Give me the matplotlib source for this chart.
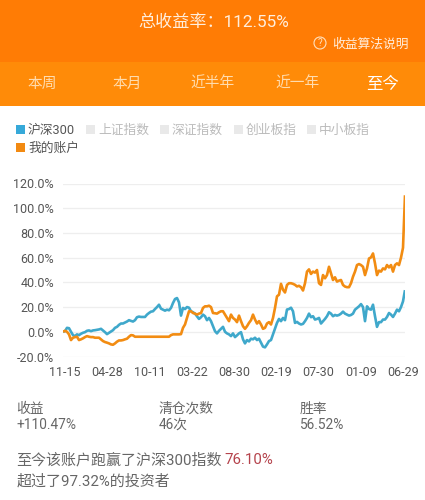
import numpy as np
import matplotlib
matplotlib.use("Agg")
import matplotlib.pyplot as plt
from matplotlib.patches import Rectangle, Circle

plt.rcParams['font.family'] = ['Roboto', 'Noto Sans CJK SC', 'DejaVu Sans']

W, H = 425, 500

tabs = ["本周", "本月", "近半年", "近一年", "至今"]
legend_names = ["沪深300", "上证指数", "深证指数", "创业板指", "中小板指", "我的账户"]
date_labels = ["11-15", "04-28", "10-11", "03-22", "08-30", "02-19", "07-30", "01-09", "06-29"]
y_ticks = [-20, 0, 20, 40, 60, 80, 100, 120]

# return in percent, one sample every couple of trading days
hs300 = [
    0, .5, 3.2, 2.9, 0, -2.7, -3.5, -2.1, -2.7, -1.6, -.8, -.3, .8, 1.1, .5, 1.1, 1.3, 1.6, 1.9, 2.4,
    1.1, -.3, -1.9, -.8, .3, 1.3, 3.2, 4, 5.6, 6.7, 6.7, 7.5, 8.3, 9.4, 8.8, 8.3, 9.4, 11.8, 12.3, 12,
    12, 12, 13.9, 15.2, 16.3, 16.6, 18.4, 20, 21.9, 18.7, 17.9, 17.1, 17.9, 17.4, 19.3, 23.3, 26.5, 27.3, 23.8, 13.1,
    19.3, 18.4, 20, 19.5, 16.6, 15.8, 14.7, 12.6, 10.4, 11.8, 13.9, 12.6, 9.4, 11.2, 8.6, 4.5, .5,
    -1.3, .8, 2.4, 4, 0, -1.3, -2.1, -3.5, -1.3, -4.3, -2.9, -1.3, -.3, -6.1, -9.4, -6.7, -7.8, -5.6, -6.1, -4.8,
    -6.7, -5.6, -8.8, -12, -12.6, -10.2, -7.5, -6.7, -2.1, 2.4, 7.2, 10.4, 8.6, 11.2, 9.4, 18, 18.4, 19.5, 16.6, 7.2,
    8, 6.7, 5.9, 6.4, 8.6, 11.2, 14.7, 11.8, 12.6, 9.9, 10.4, 11.2, 6.7, 8.6, 10.4, 12.6, 15.8, 14.7, 12.6, 13.6,
    13.1, 13.6, 14.7, 16.3, 14.7, 13.9, 13.1, 13.6, 14.7, 17.9, 19.3, 20.6, 22.4, 20, 8.6, 20.6, 18.4, 17.9, 21.9, 12.6,
    4, 7.8, 7.8, 9.9, 9.9, 12, 15.2, 13.9, 12, 14.7, 17.9, 16.6, 20, 24.6, 33.7,
]

my_account = [
    0, .8, 0, -2.1, -6.7, -4.8, -4.3, -4, -6.7, -6.1, -5.3, -4.3, -3.5, -4, -4.3, -4.3, -4.8, -4.8, -4.8, -6.1,
    -7.5, -8.3, -8.8, -9.4, -10.2, -10.5, -9.4, -8, -7, -7, -6.7, -6.1, -5.6, -4, -2.7, -2.9, -4, -4, -4, -4,
    -4, -4, -4, -4, -4, -4, -4, -4, -4, -4, -4, -4, -4, -4, -2.7, -2.1, -2.1, -2.1, -2.1, -1.9,
    3.2, 5.9, 11.2, 16.6, 16.6, 15.2, 14.7, 13.9, 14.7, 15.2, 19.3, 20.6, 20.6, 21.1, 20, 15.2, 15,
    14.7, 15.8, 16.6, 16.6, 13.9, 11.2, 8.6, 13.9, 11.2, 9.9, 7.8, 13.1, 8.6, 4.5, 2.4, 4.5, 7.2, 9.4, 13.9,
    9.9, 6.7, 8.6, 5.9, 2.4, 3.2, 6.7, 7.8, 5.9, 11.2, 19.3, 28.7, 30, 38.8, 34, 31.8, 37.9, 39.3, 39.3, 38.8,
    38, 36.7, 37.2, 36.1, 33.4, 39.3, 48.7, 50.5, 46.8, 48.7, 47.9, 50, 39.3, 37.9, 45.9, 43.3, 45.9, 52.6, 47.3, 41.9,
    44.1, 40.6, 41.4, 41.9, 37.9, 36.6, 36.1, 36.1, 39.3, 44.6, 48.7, 54, 54.8, 54, 52.6, 45.9, 51.3, 59.3, 60.2, 63.4,
    55.4, 45.9, 49.5, 48.7, 51.3, 50.5, 54, 52.1, 54, 48.7, 54, 55.4, 54, 60, 68, 110.47,
]

fig = plt.figure(figsize=(W / 100, H / 100), dpi=100, facecolor="white")

# pixel-coordinate layer for the app chrome around the chart
page = fig.add_axes([0, 0, 1, 1])
page.set_xlim(0, W)
page.set_ylim(H, 0)
page.axis("off")

page.add_patch(Rectangle((0, 0), W, 62, color="#ff7c05", lw=0))
page.add_patch(Rectangle((0, 62), W, 43.5, color="#ff8b08", lw=0))

page.text(213.5, 22, "总收益率：112.55%", color="#ffeedd", fontsize=12.3, ha="center", va="center")
page.add_patch(Circle((320, 43), 6, fill=False, ec="#ffe0bd", lw=0.8))
page.text(320, 43.5, "?", color="#ffe0bd", fontsize=7, ha="center", va="center")
page.text(332, 44, "收益算法说明", color="#ffeedd", fontsize=9.2, va="center")

for name, cx in zip(tabs, [42, 127, 213, 298, 383]):
    active = name == "至今"
    page.text(cx, 84, name, ha="center", va="center",
              color="white" if active else "#ffdcae",
              fontsize=11.8 if active else 10.6,
              fontweight="medium" if active else "normal")

legend_x = [16, 86, 160, 234, 307, 16]
legend_y = [129.5, 129.5, 129.5, 129.5, 129.5, 147]
swatches = ["#36a9d9", "#e9e9e9", "#e9e9e9", "#e9e9e9", "#e9e9e9", "#f28a12"]
label_cols = ["#555555", "#bbbbbb", "#bbbbbb", "#bbbbbb", "#bbbbbb", "#555555"]
for name, lx, ly, sw, tc in zip(legend_names, legend_x, legend_y, swatches, label_cols):
    page.add_patch(Rectangle((lx, ly - 4.5), 9, 9, color=sw, lw=0))
    page.text(lx + 12, ly + 0.8, name, color=tc, fontsize=9.2, va="center")

for head, val, sx in [("收益", "+110.47%", 16.5), ("清仓次数", "46次", 158.5), ("胜率", "56.52%", 299.5)]:
    page.text(sx, 409, head, color="#666666", fontsize=9.9, va="center")
    page.text(sx, 425, val, color="#666666", fontsize=9.9, va="center")

page.text(16.5, 460.5, "至今该账户跑赢了沪深300指数", color="#666666", fontsize=10.8, va="center")
page.text(224, 460.5, "76.10%", color="#b5434c", fontsize=10.8, va="center")
page.text(16.5, 481.5, "超过了97.32%的投资者", color="#666666", fontsize=10.8, va="center")

# the return chart itself
ax = fig.add_axes([63 / W, 1 - 356.5 / H, (405 - 63) / W, (356.5 - 183.5) / H])
ax.patch.set_alpha(0)
days = np.arange(len(hs300))
ax.plot(days, hs300, color="#3fa8cb", lw=1.9, solid_joinstyle="round", solid_capstyle="butt")
ax.plot(days, my_account, color="#f28c12", lw=1.9, solid_joinstyle="round", solid_capstyle="butt")

ax.set_xlim(0, len(hs300) - 1)
ax.set_ylim(-20, 120)
ax.set_yticks(y_ticks)
ax.set_yticklabels([f"{v:.1f}%" for v in y_ticks])
ax.set_xticks(np.linspace(1, len(hs300) - 2, len(date_labels)))
ax.set_xticklabels(date_labels)
ax.tick_params(length=0, labelsize=9, labelcolor="#555555")
ax.tick_params(axis="y", pad=6.5)
ax.tick_params(axis="x", pad=7)
ax.grid(axis="y", color="#eeeeee", lw=0.9)
ax.set_axisbelow(True)
for side in ax.spines.values():
    side.set_visible(False)

fig.savefig("out.png", dpi=100)
